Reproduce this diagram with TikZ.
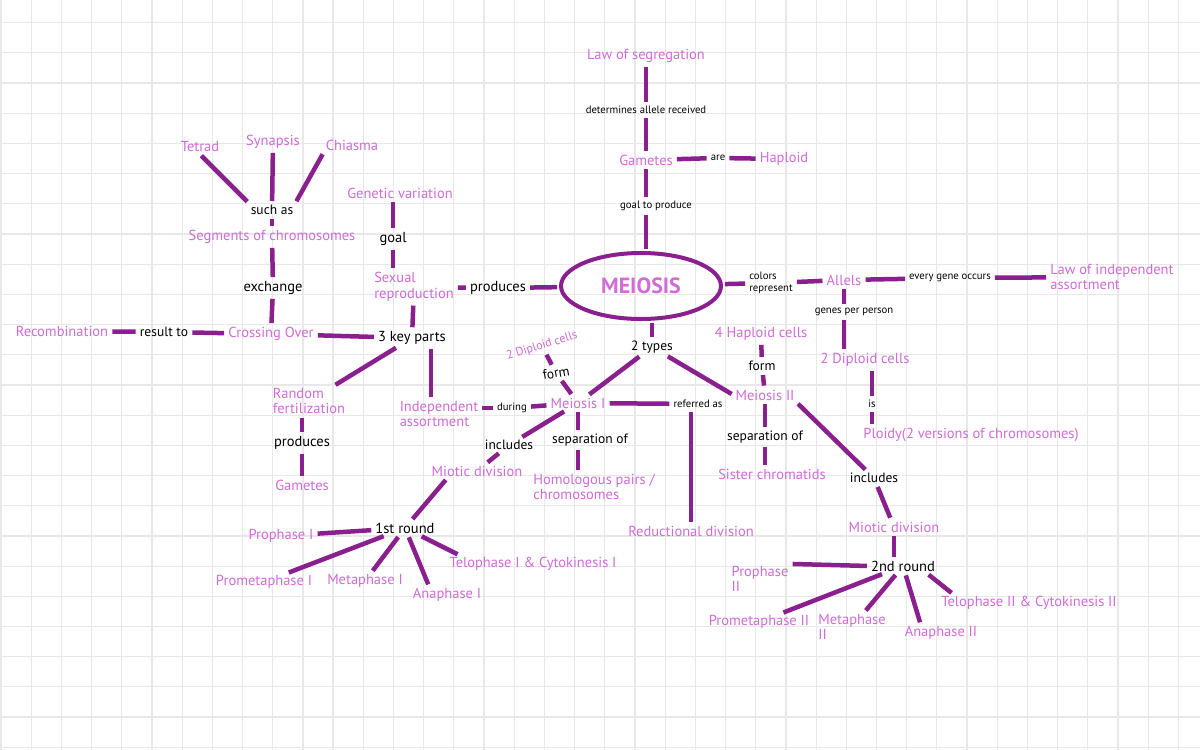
\documentclass[tikz,border=0pt]{standalone}
\usepackage{fontspec}
\setmainfont{PT Sans}
\usetikzlibrary{shapes.geometric,calc}
\definecolor{Plum}{HTML}{8A1F8E}
\definecolor{Orchid}{HTML}{D06CD6}
\definecolor{GridGray}{HTML}{E8E8E8}

\begin{document}
\begin{tikzpicture}[x=1pt,y=-1pt,
  concept/.style={text=Orchid,font=\fontsize{14.5}{15.5}\selectfont,inner sep=2pt,align=left},
  word/.style={text=black,font=\fontsize{13.5}{15}\selectfont,inner sep=2pt},
  bigword/.style={text=black,font=\fontsize{14.5}{16}\selectfont,inner sep=2pt},
  tiny/.style={text=black,font=\fontsize{10.7}{12.5}\selectfont,inner sep=2pt,align=left},
  link/.style={draw=Plum,line width=4.5pt,shorten <=2pt,shorten >=2pt}
]
  % squared paper
  \fill[white] (0,0) rectangle (1200,750);
  \useasboundingbox (0,0) rectangle (1200,750);
  \foreach \i in {0,...,39}
    \draw[GridGray,line width=1.2pt] ({1+30.19*\i},0) -- ({1+30.19*\i},750);
  \foreach \j in {0,...,24}
    \draw[GridGray,line width=1.2pt] (0,{22.7+30.19*\j}) -- (1200,{22.7+30.19*\j});

  % centre and top
  \node[ellipse,draw=Plum,line width=4pt,minimum width=160pt,minimum height=66pt,
        text=Orchid,font=\bfseries\fontsize{22}{22}\selectfont] (meiosis) at (641,286) {MEIOSIS};
  \node[concept] (lawseg) at (646,56) {Law of segregation};
  \node[tiny] (determ) at (646,110) {determines allele received};
  \node[concept] (gamA) at (646,160) {Gametes};
  \node[tiny] (are) at (718,158) {are};
  \node[concept] (haploid) at (784,159) {Haploid};
  \node[tiny] (goalprod) at (656,206) {goal to produce};

  % alleles side
  \node[tiny] (colors) at (771,283) {colors\\represent};
  \node[concept] (allels) at (844,280) {Allels};
  \node[tiny] (everygene) at (950,278) {every gene occurs};
  \node[concept] (lawind) at (1112,277) {Law of independent\\assortment};
  \node[tiny] (genesper) at (854,312) {genes per person};
  \node[concept] (dipR) at (865,360) {2 Diploid cells};
  \node[tiny] (isn) at (872,404) {is};
  \node[concept] (ploidy) at (971,435) {Ploidy(2 versions of chromosomes)};

  % meiosis II
  \node[word] (twotypes) at (652,347) {2 types};
  \node[concept] (hapfour) at (761,334) {4 Haploid cells};
  \node[word] (formR) at (762,366) {form};
  \node[concept] (meiosisII) at (765,395) {Meiosis II};
  \node[word] (sepR) at (765,437) {separation of};
  \node[concept] (sister) at (772,474) {Sister chromatids};
  \node[word] (incR) at (874,478) {includes};
  \node[concept] (mitR) at (894,527) {Miotic division};
  \node[bigword] (round2) at (903,566) {2nd round};
  \node[concept] (proII) at (760,579) {Prophase\\II};
  \node[concept] (prometII) at (759,622) {Prometaphase II};
  \node[concept] (metII) at (852,627) {Metaphase\\II};
  \node[concept] (anaII) at (941,633) {Anaphase II};
  \node[concept] (teloII) at (1029,603) {Telophase II \& Cytokinesis II};

  % meiosis I
  \node[concept] (meiosisI) at (578,403) {Meiosis I};
  \node[tiny] (referred) at (698,404) {referred as};
  \node[concept] (reduct) at (691,531) {Reductional division};
  \node[word] (sepL) at (590,440) {separation of};
  \node[concept] (homol) at (594,487) {Homologous pairs /\\chromosomes};
  \node[concept,font=\fontsize{12}{13}\selectfont,rotate=17] (dipL) at (542,346) {2 Diploid cells};
  \node[word,rotate=10] (formL) at (556,373) {form};
  \node[tiny] (during) at (512,408) {during};
  \node[word] (incL) at (509,445) {includes};
  \node[concept] (mitL) at (477,471) {Miotic division};
  \node[bigword] (round1) at (405,528) {1st round};
  \node[concept] (proI) at (281,536) {Prophase I};
  \node[concept] (prometI) at (264,582) {Prometaphase I};
  \node[concept] (metI) at (365,581) {Metaphase I};
  \node[concept] (anaI) at (447,595) {Anaphase I};
  \node[concept] (teloI) at (533,564) {Telophase I \& Cytokinesis I};

  % left side
  \node[bigword] (keyparts) at (412,338) {3 key parts};
  \node[bigword] (producesT) at (498,288) {produces};
  \node[concept] (sexual) at (414,287) {Sexual\\reproduction};
  \node[bigword] (goal) at (393,239) {goal};
  \node[concept] (genvar) at (400,193) {Genetic variation};
  \node[concept] (indep) at (439,414) {Independent\\assortment};
  \node[concept] (random) at (309,401) {Random\\fertilization};
  \node[bigword] (producesL) at (302,443) {produces};
  \node[concept] (gamB) at (302,485) {Gametes};
  \node[concept] (crossing) at (271,334) {Crossing Over};
  \node[word] (resultto) at (164,332) {result to};
  \node[concept] (recomb) at (62,331) {Recombination};
  \node[bigword] (exchange) at (273,288) {exchange};
  \node[concept] (segments) at (272,237) {Segments of chromosomes};
  \node[word] (suchas) at (272,210) {such as};
  \node[concept] (tetrad) at (200,147) {Tetrad};
  \node[concept] (synapsis) at (273,142) {Synapsis};
  \node[concept] (chiasma) at (352,145) {Chiasma};

  % connectors
  \draw[link] (lawseg) -- (determ);
  \draw[link] (determ) -- (gamA);
  \draw[link] (gamA) -- (are);
  \draw[link] (are) -- (haploid);
  \draw[link] (gamA) -- (gamA |- goalprod.north);
  \draw[link] (gamA |- goalprod.south) -- (gamA |- meiosis.north);
  \draw[link] (sexual) -- (producesT);
  \draw[link] (producesT) -- (meiosis);
  \draw[link] (meiosis) -- (colors);
  \draw[link] (colors) -- (allels);
  \draw[link] (allels) -- (everygene);
  \draw[link] (everygene) -- (lawind);
  \draw[link] (allels) -- (allels |- genesper.north);
  \draw[link] (allels |- genesper.south) -- (allels |- dipR.north);
  \draw[link] (isn |- dipR.south) -- (isn);
  \draw[link] (isn) -- (isn |- ploidy.north);
  \draw[link] (twotypes |- meiosis.south) -- (twotypes);
  \draw[link] (twotypes) -- (meiosisI);
  \draw[link] (twotypes) -- (meiosisII.west);
  \draw[link] (hapfour) -- (formR);
  \draw[link] (formR) -- (meiosisII);
  \draw[link] (meiosisII) -- (sepR);
  \draw[link] (sepR) -- (sepR |- sister.north);
  \draw[link] (meiosisII.south east) -- (incR);
  \draw[link] (incR) -- (mitR);
  \draw[link] (mitR) -- (mitR |- round2.north);
  \draw[link] (round2.west) -- (proII.north east);
  \draw[link] (round2) -- (prometII);
  \draw[link] (round2) -- (metII);
  \draw[link] (round2) -- ([xshift=18pt]anaII.north west);
  \draw[link] ([xshift=-10pt]round2.south east) -- ([xshift=14pt]teloII.north west);
  \draw[link] (meiosisI) -- (referred);
  \draw[link] (referred.south -| reduct) -- (reduct);
  \draw[link] (meiosisI) -- (meiosisI |- sepL.north);
  \draw[link] (meiosisI |- sepL.south) -- (meiosisI |- homol.north);
  \draw[link] (dipL) -- (formL);
  \draw[link] (formL) -- (meiosisI);
  \draw[link] (during -| indep.east) -- (during);
  \draw[link] (during) -- (meiosisI);
  \draw[link] (meiosisI) -- (incL);
  \draw[link] (incL) -- (mitL);
  \draw[link] ([xshift=-30pt]mitL.south) -- (round1);
  \draw[link] (round1) -- (proI);
  \draw[link] (round1) -- (prometI);
  \draw[link] (round1) -- (metI);
  \draw[link] (round1) -- ([xshift=-18pt]anaI.north);
  \draw[link] (round1) -- ([xshift=12pt]teloI.north west);
  \draw[link] ([xshift=19pt]keyparts.south) -- ([xshift=19pt]keyparts.south |- indep.north);
  \draw[link] (keyparts) -- (random);
  \draw[link] (sexual) -- (keyparts);
  \draw[link] (goal |- genvar.south) -- (goal);
  \draw[link] (goal) -- (goal |- sexual.north);
  \draw[link] (crossing) -- (keyparts);
  \draw[link] (recomb) -- (resultto);
  \draw[link] (resultto) -- (crossing);
  \draw[link] (exchange) -- (crossing);
  \draw[link] (segments) -- (exchange);
  \draw[link] (suchas) -- (segments);
  \draw[link] (synapsis) -- (suchas);
  \draw[link] (tetrad.south) -- (suchas.north west);
  \draw[link] (chiasma.south west) -- (suchas.north east);
  \draw[link] (producesL |- random.south) -- (producesL);
  \draw[link] (producesL) -- (gamB);
\end{tikzpicture}
\end{document}
